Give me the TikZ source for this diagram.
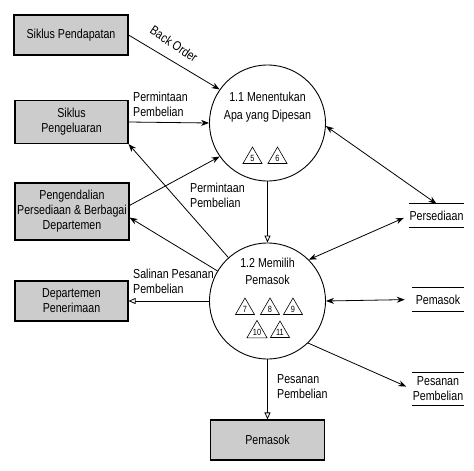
\documentclass[tikz,border=0pt]{standalone}
\usepackage{fontspec}
\setmainfont[FakeStretch=0.82]{Liberation Sans}
\usetikzlibrary{arrows.meta,shapes.geometric}
\begin{document}
\begin{tikzpicture}[x=1pt,y=-1pt,
  font=\fontsize{13}{15}\selectfont,
  entity/.style={draw,line width=1.1pt,fill=black!20,rectangle,inner sep=0pt,align=center},
  proc/.style={draw,line width=0.9pt,circle,inner sep=0pt,minimum size=116pt},
  store/.style={rectangle,inner sep=0pt,align=center},
  tri/.style={draw,line width=0.6pt,regular polygon,regular polygon sides=3,minimum size=22pt,inner sep=0pt,font=\fontsize{9}{10}\selectfont},
  flow/.style={line width=0.8pt,-{Stealth[length=8pt,width=6pt]}},
  dflow/.style={line width=0.8pt,{Stealth[length=8pt,width=6pt]}-{Stealth[length=8pt,width=6pt]}},
  oflow/.style={line width=0.8pt,-{Triangle[open,length=7pt,width=6pt]}},
  lbl/.style={inner sep=0pt,align=left,anchor=west}]
\useasboundingbox (0,0) rectangle (474,471);

% external entities
\node[entity,minimum width=114pt,minimum height=40pt] (sp) at (71,35) {Siklus Pendapatan};
\node[entity,minimum width=113pt,minimum height=43pt] (spg) at (71.5,122) {Siklus\\Pengeluaran};
\node[entity,minimum width=114pt,minimum height=57pt] (pp) at (72,211.5) {Pengendalian\\Persediaan \& Berbagai\\Departemen};
\node[entity,minimum width=113pt,minimum height=40pt] (dp) at (71.5,301) {Departemen\\Penerimaan};
\node[entity,minimum width=114pt,minimum height=40pt] (pm) at (267.5,440) {Pemasok};

% processes
\node[proc] (c11) at (267.5,123) {};
\node[inner sep=0pt,align=center] (t11) at (267.5,107.5) {1.1 Menentukan\\[3pt]Apa yang Dipesan};
\node[tri] (tr5) at (252.5,158) {5};
\node[tri] (tr6) at (277.5,158) {6};

\node[proc] (c12) at (267.5,301) {};
\node[inner sep=0pt,align=center] (t12) at (267.5,271.5) {1.2 Memilih\\[2pt]Pemasok};
\node[tri] (tr7) at (245,309) {7};
\node[tri] (tr8) at (270,309) {8};
\node[tri] (tr9) at (293,309) {9};
\node[tri] (tr10) at (257,332) {10};
\node[tri] (tr11) at (280,332) {11};

% data stores
\node[store,minimum width=53pt,minimum height=23pt] (ps) at (436.5,215.5) {Persediaan};
\node[store,minimum width=52pt,minimum height=23pt] (pms) at (438,299.5) {Pemasok};
\node[store,minimum width=52pt,minimum height=32pt] (ppb) at (438,389) {Pesanan\\Pembelian};
\foreach \s in {ps,pms,ppb}{
  \draw[line width=0.9pt] (\s.north west) -- (\s.north east);
  \draw[line width=0.9pt] (\s.south west) -- (\s.south east);
}

% flows
\draw[flow] (sp.east) -- (c11.145);
\node[inner sep=0pt,rotate=-34] (lbo) at (174,44) {Back Order};

\draw[flow] (spg.east) -- (c11.west);
\node[lbl] (lpp1) at (133,104) {Permintaan\\Pembelian};

\draw[flow] (c12.132) -- (spg.south east);

\draw[flow] (pp.6) -- (c11.215);
\node[lbl] (lpp2) at (190,195.5) {Permintaan\\Pembelian};

\draw[flow] (c12.149) -- (pp.-6);

\draw[oflow] (c12.west) -- (dp.east);
\node[lbl] (lsp) at (133,281.5) {Salinan Pesanan\\Pembelian};

\draw[oflow] (c11.south) -- (c12.north);

\draw[dflow] (c11.-3) -- (ps.north);
\draw[dflow,shorten >=6pt] (c12.45) -- (ps.west);
\draw[dflow,shorten >=7pt] (c12.east) -- (pms.west);
\draw[flow,shorten >=6pt] (c12.-46) -- (ppb.west);

\draw[oflow] (c12.south) -- (pm.north);
\node[lbl] (lpb) at (277,387) {Pesanan\\Pembelian};
\end{tikzpicture}
\end{document}
